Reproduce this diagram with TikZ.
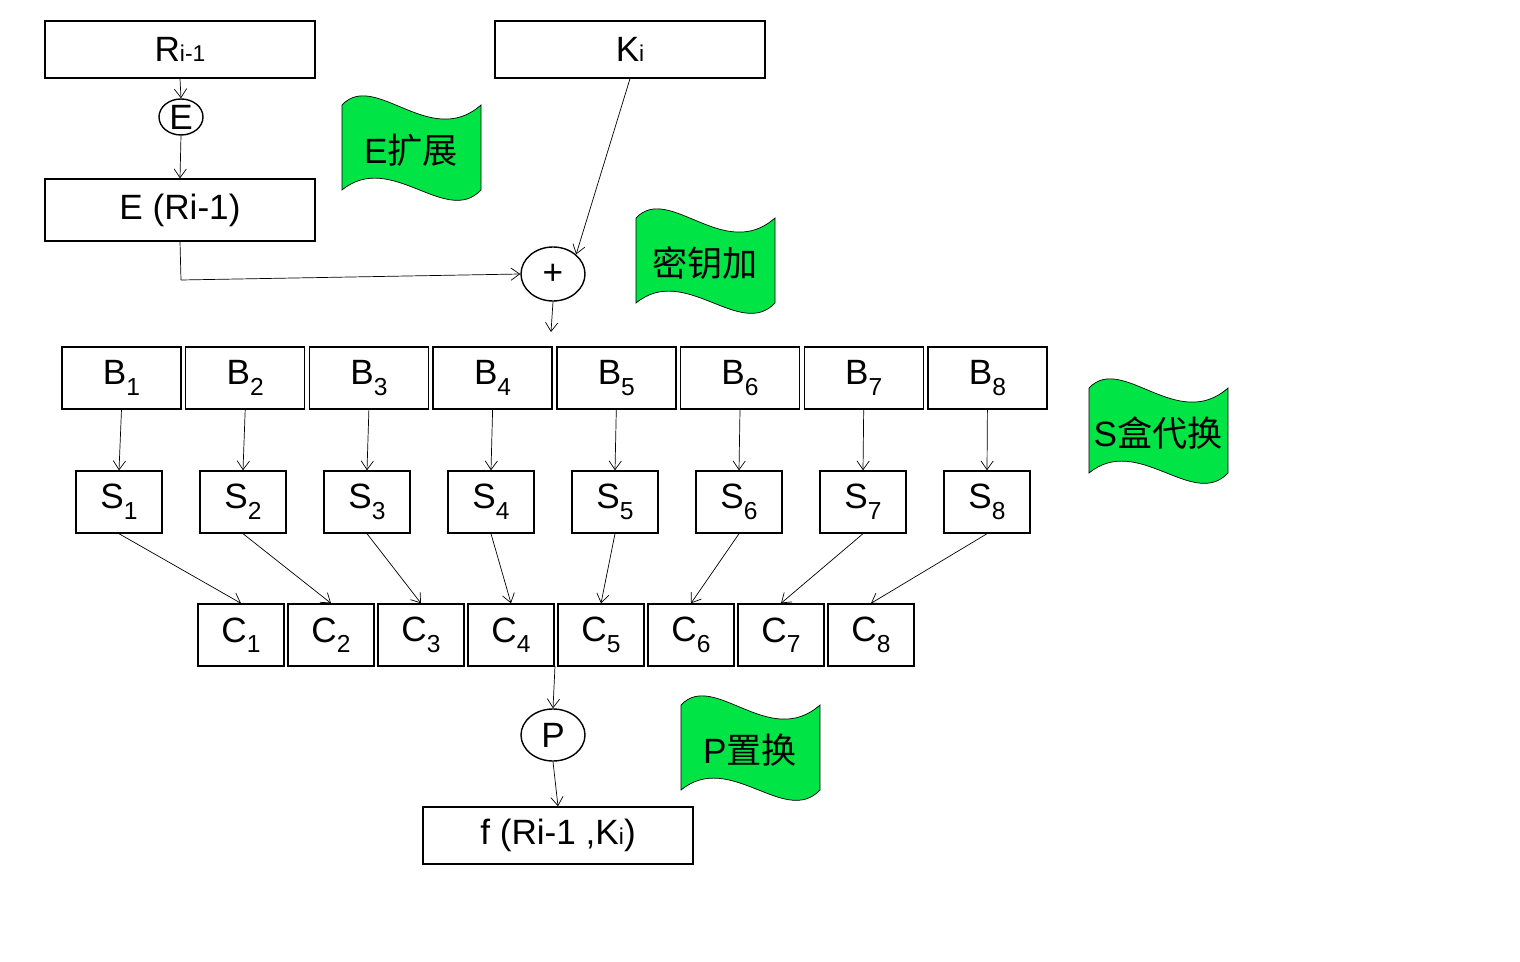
\documentclass[tikz,border=0pt]{standalone}
\usepackage{fontspec}
\setmainfont{Liberation Sans}
\newfontfamily\cjk{Noto Sans CJK SC}
\usetikzlibrary{shapes.geometric,arrows.meta}
\begin{document}
\begin{tikzpicture}[x=0.02cm,y=-0.02cm,
  bx/.style={draw,thick,minimum width=#1*0.02cm,inner sep=0pt,font=\fontsize{20}{20}\selectfont},
  el/.style={draw,thick,ellipse,inner sep=0pt,font=\fontsize{20}{20}\selectfont},
  ar/.style={-{Straight Barb[length=5pt,width=7pt]}},
  flag/.style={fill=green!70!cyan!90!black,draw=black,thin}]
\useasboundingbox (0,0) rectangle (1520,962);
\newcommand\mysub[1]{\raisebox{-0.3em}{\fontsize{14}{14}\selectfont #1}}
% top boxes
\node[bx=270,minimum height=57*0.02cm] (R) at (180,49.5) {R{\fontsize{13}{13}\selectfont i-1}};
\node[el,minimum width=44*0.02cm,minimum height=36*0.02cm] (E) at (181,117) {E};
\node[bx=270,minimum height=62*0.02cm] (ER) at (180,210) {E (Ri-1)};
\node[bx=270,minimum height=57*0.02cm] (K) at (630,49.5) {K{\fontsize{13}{13}\selectfont i}};
\node[el,minimum width=64*0.02cm,minimum height=54*0.02cm] (plus) at (553,274) {+};
\coordinate (corner) at (181,280);
\draw[ar] (R.south) -- (E.north);
\draw[ar] (E.south) -- (ER.north);
\draw (ER.south) -- (corner);
\draw[ar] (corner) -- (plus.west);
\draw[ar] (K.south) -- (plus.north east);
\coordinate (pb) at (551,332);
\draw[ar] (plus.south) -- (pb);
% B, S, C
\foreach \i in {1,...,8}{
  \pgfmathsetmacro\bx{121.5+123.7*(\i-1)}
  \pgfmathsetmacro\sx{119+124*(\i-1)}
  \pgfmathsetmacro\cx{241+90*(\i-1)}
  \node[bx=119,minimum height=62*0.02cm] (B\i) at (\bx,378) {B\mysub{\i}};
  \node[bx=86,minimum height=62*0.02cm] (S\i) at (\sx,502) {S\mysub{\i}};
  \node[bx=86,minimum height=62*0.02cm] (C\i) at (\cx,635) {C\mysub{\i}};
  \draw[ar] (B\i.south) -- (S\i.north);
  \draw[ar] (S\i.south) -- (C\i.north);
}
\coordinate (cb) at (555,666);
\node[el,minimum width=64*0.02cm,minimum height=52*0.02cm] (P) at (553,735) {P};
\node[bx=270,minimum height=57*0.02cm] (f) at (558,835.5) {f (Ri-1 ,K{\fontsize{13}{13}\selectfont i})};
\draw[ar] (cb) -- (P.north);
\draw[ar] (P.south) -- (f.north);
% flags
\foreach \x/\y/\t in {342/92/{E{\cjk 扩展}},636/205/{\cjk 密钥加},1089/375/{S{\cjk 盒代换}},681/692/{P{\cjk 置换}}}{
  \draw[flag] (\x,\y+13) .. controls (\x+33,\y-22) and (\x+88,\y+58) .. (\x+139,\y+13)
     -- (\x+139,\y+98) .. controls (\x+104,\y+135) and (\x+49,\y+58) .. (\x,\y+98) -- cycle;
  \node[font=\fontsize{20}{20}\selectfont] at (\x+69,\y+58) {\t};
}
\end{tikzpicture}
\end{document}
